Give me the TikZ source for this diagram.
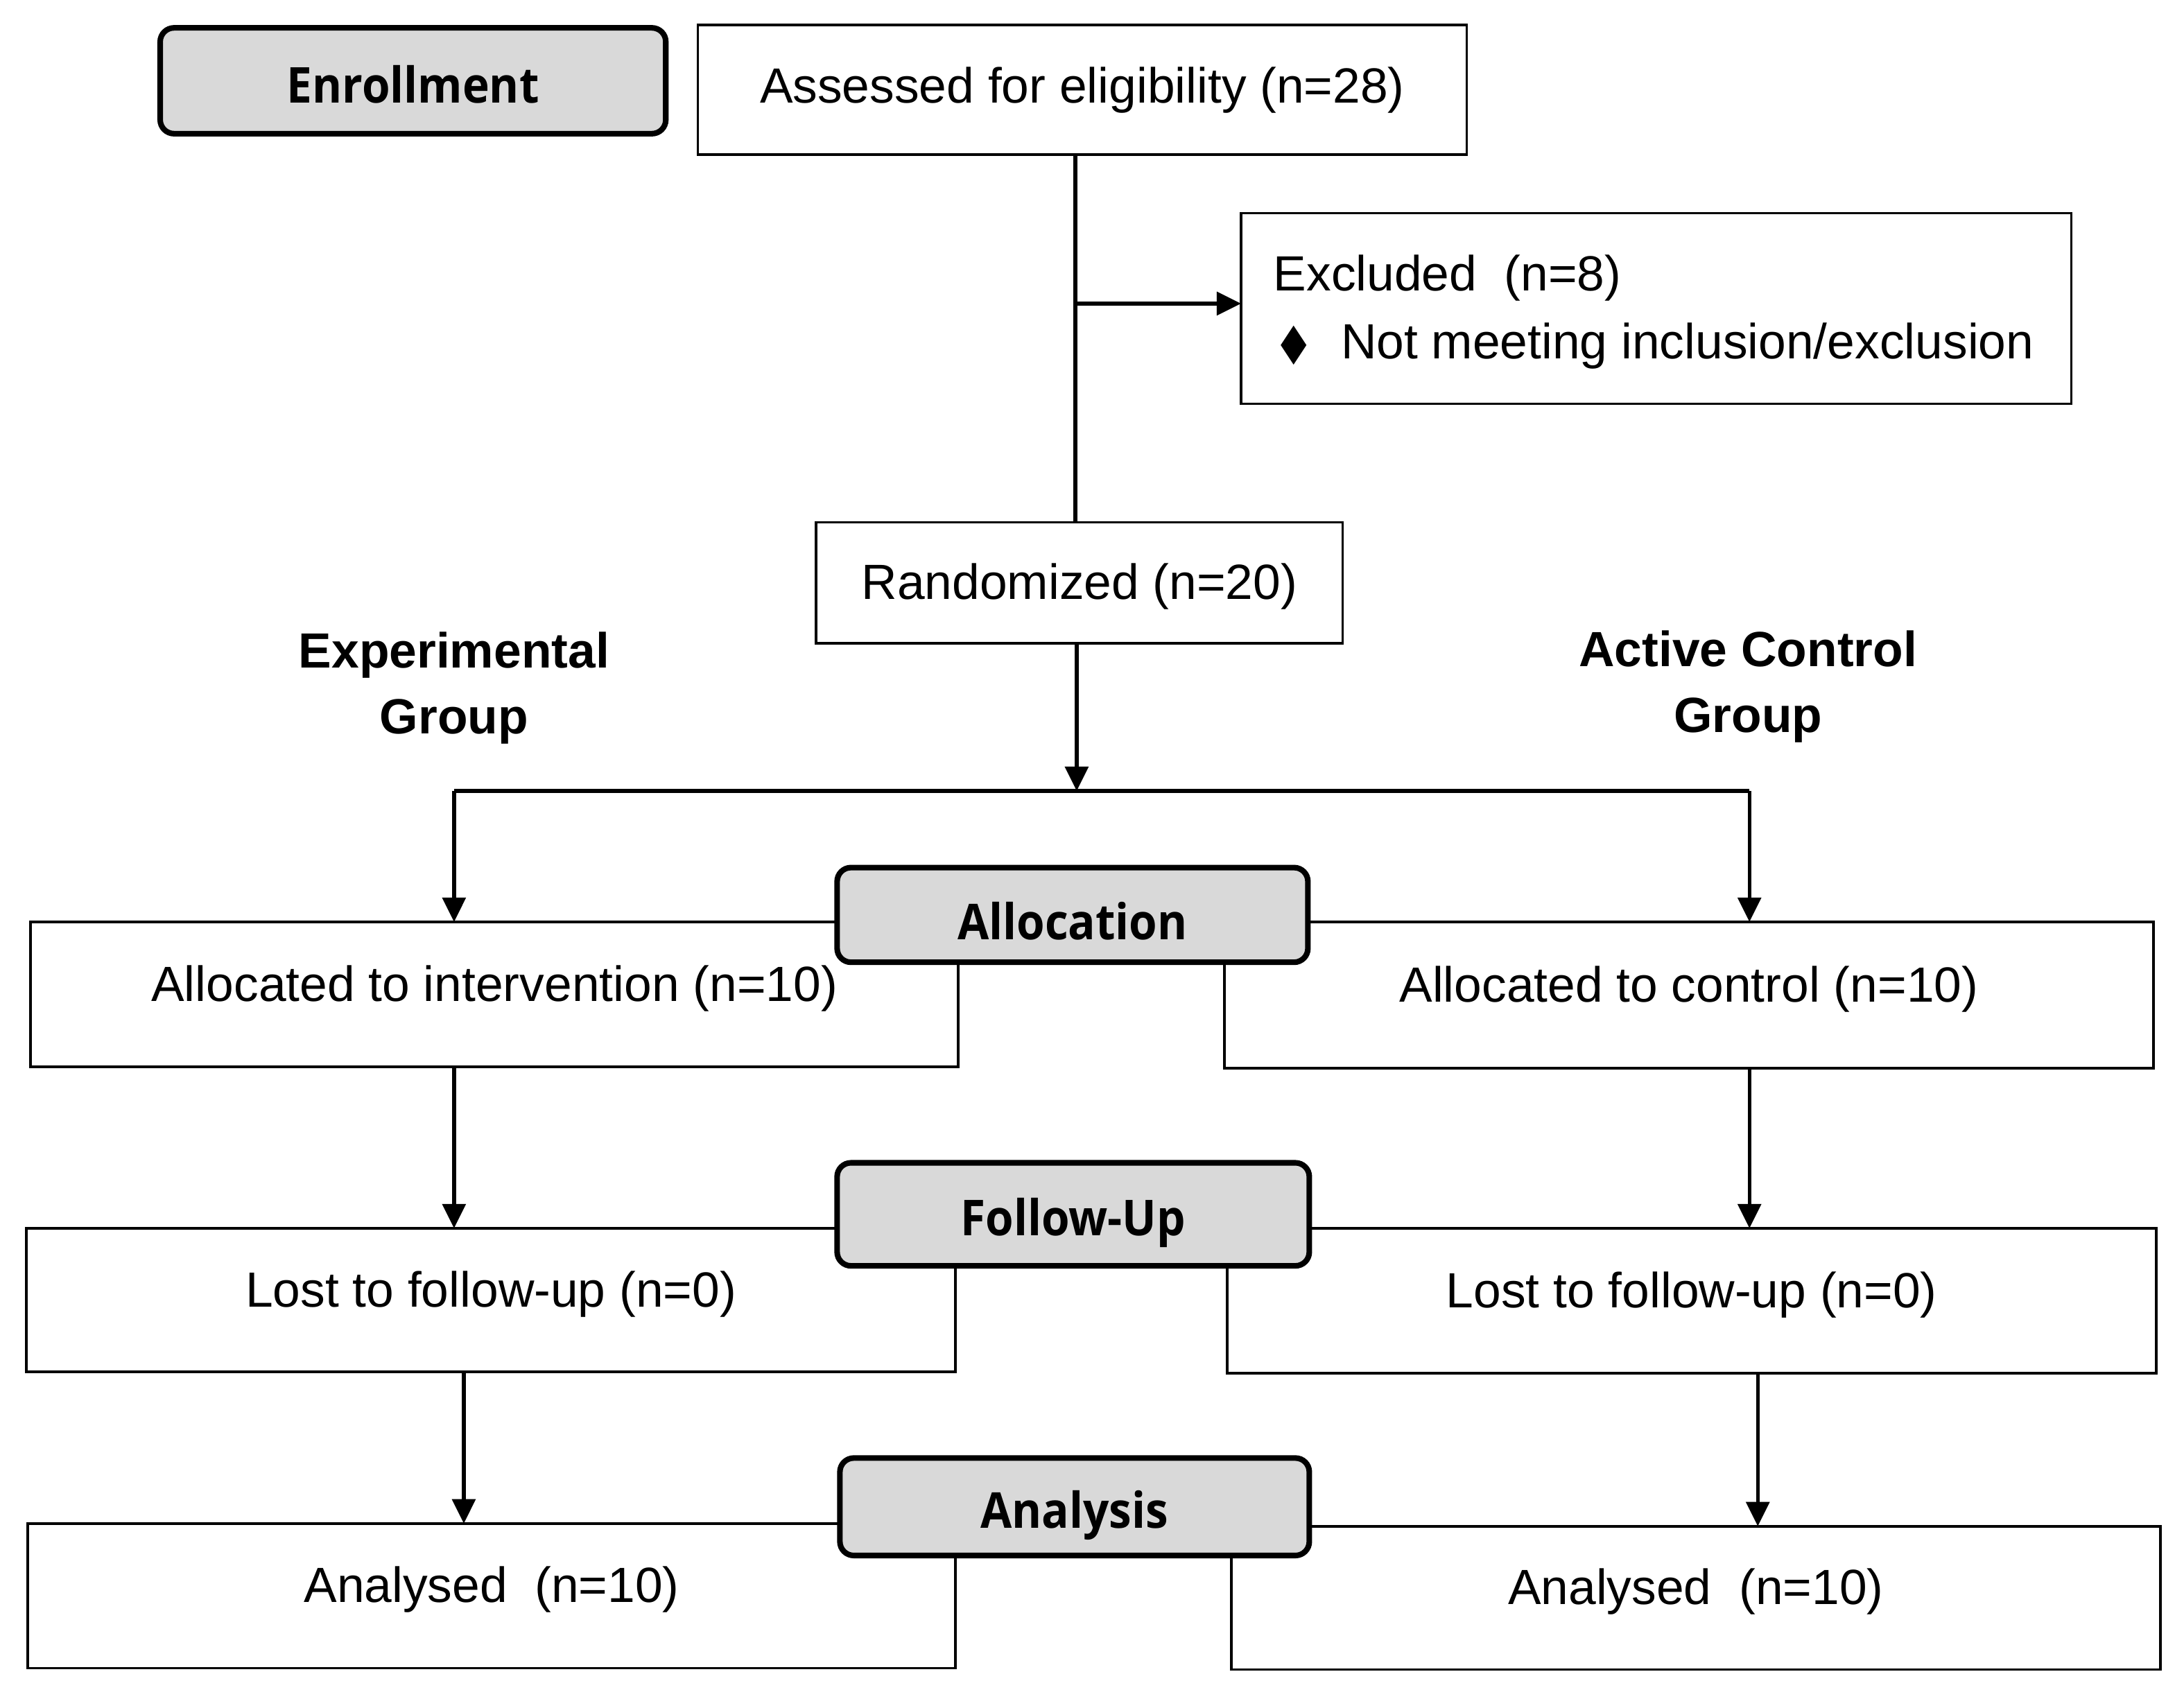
\documentclass[tikz,border=0pt]{standalone}
\usepackage{graphicx}
\usepackage{fontspec}
\setmainfont{Liberation Sans}
\newfontfamily\hdrfont{Open Sans}
\newfontfamily\symfont{DejaVu Sans}
\usetikzlibrary{arrows.meta,calc}
\definecolor{boxgray}{HTML}{D9D9D9}
\newcommand\up[1]{\raisebox{2.5pt}[\height][\depth]{#1}}
\newcommand\hx[2][-1.5pt]{\raisebox{#1}[\height][\depth]{\scalebox{0.92}[1]{#2}}}
\begin{document}
\begin{tikzpicture}[x=0.5716pt,y=-0.5716pt,
  sz/.style 2 args={minimum width=#1*0.5716pt, minimum height=#2*0.5716pt},
  wbox/.style={draw, line width=1pt, fill=white, inner sep=0pt, outer sep=0pt, font=\fontsize{20.3pt}{24pt}\selectfont},
  gbox/.style={draw, line width=2.3pt, fill=boxgray, rounded corners=5.7pt, inner sep=0pt, outer sep=0pt, font=\hdrfont\bfseries\fontsize{20.3pt}{24pt}\selectfont},
  hdr/.style={font=\bfseries\fontsize{20.3pt}{26.9pt}\selectfont, align=center, inner sep=0pt},
  conn/.style={line width=1.5pt},
  arr/.style={conn, -{Triangle[width=9.5pt,length=10pt]}}]
\useasboundingbox[fill=white] (0,0) rectangle (1568,1220);

% white boxes
\node[wbox, sz={552}{93}] (assess) at (777,64.5) {Assessed for eligibility (n=28)};
\node[wbox, sz={596}{137}, align=left, font=\fontsize{20.3pt}{28pt}\selectfont] (excl) at (1189,221.5)
  {\hspace*{-2pt}\raisebox{-1.5pt}[\height][\depth]{Excluded\ \ (n=8)}\\\raisebox{-1.5pt}[\height][\depth]{\hspace*{1pt}{\symfont\fontsize{21pt}{21pt}\selectfont\scalebox{0.66}[1]{◆}}\hspace{14pt}Not meeting inclusion/exclusion}};
\node[wbox, sz={378}{87}] (rand) at (775,418.5) {\raisebox{-1.5pt}[\height][\depth]{Randomized (n=20)}};
\node[wbox, sz={666}{104}] (al1) at (355,714) {\up{Allocated to intervention (n=10)}};
\node[wbox, sz={667}{105}] (al2) at (1212.5,714.5) {\up{Allocated to control (n=10)}};
\node[wbox, sz={667}{103}] (fu1) at (352.5,933.5) {\up{Lost to follow-up (n=0)}};
\node[wbox, sz={667}{104}] (fu2) at (1214.5,934) {\up{Lost to follow-up (n=0)}};
\node[wbox, sz={666}{104}] (an1) at (353,1146) {\up{Analysed\ \ (n=10)}};
\node[wbox, sz={667}{103}] (an2) at (1217.5,1147.5) {\up{Analysed\ \ (n=10)}};

% grey stage boxes
\node[gbox, sz={363}{76}] (enroll) at (296.5,58) {\hx{Enrollment}};
\node[gbox, sz={338}{68}] (alloc) at (770,657) {\hx[-2.5pt]{Allocation}};
\node[gbox, sz={339}{74}] (follow) at (770.5,872) {\hx[-3.5pt]{Follow-Up}};
\node[gbox, sz={337}{70}] (analysis) at (771.5,1082) {\hx[-3.5pt]{Analysis}};

% group headers
\node[hdr] (expg) at (326,494) {Experimental\\Group};
\node[hdr] (actg) at (1255,493) {Active Control\\Group};

% connectors
\coordinate (split) at (772,218);
\coordinate (jn) at (773,568);
\coordinate (jl) at (326,568);
\coordinate (jr) at (1256,568);
\coordinate (xl) at (333,0);
\coordinate (xr) at (1262,0);
\draw[conn] (assess.south -| split) -- (rand.north -| split);
\draw[arr] (split) -- (split -| excl.west);
\draw[arr] (rand.south -| jn) -- (jn);
\draw[conn] (jl) -- (jr);
\draw[arr] (jl) -- (al1.north -| jl);
\draw[arr] (jr) -- (al2.north -| jr);
\draw[arr] (al1.south -| jl) -- (fu1.north -| jl);
\draw[arr] (al2.south -| jr) -- (fu2.north -| jr);
\draw[arr] (fu1.south -| xl) -- (an1.north -| xl);
\draw[arr] (fu2.south -| xr) -- (an2.north -| xr);
\end{tikzpicture}
\end{document}
